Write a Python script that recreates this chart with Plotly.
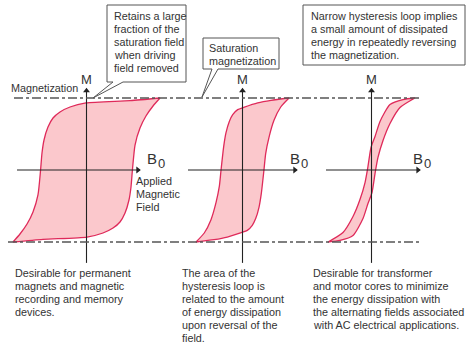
import plotly.graph_objects as go

# ---------------- data ----------------
# upper (descending) branch of each loop, B0 and M in units of saturation
loop1_B = [1.021, 0.604, -0.007, -0.229, -0.368, -0.465, -0.535, -0.590, -0.618, -0.639, -0.674, -0.743, -0.826, -0.924, -1.021]
loop1_M = [1.0, 0.963, 0.931, 0.875, 0.806, 0.722, 0.597, 0.417, 0.236, -0.014, -0.347, -0.583, -0.75, -0.889, -1.0]

loop2_B = [0.646, 0.396, 0.211, 0.017, -0.067, -0.136, -0.183, -0.229, -0.261, -0.299, -0.322, -0.368, -0.4375, -0.531, -0.646]
loop2_M = [1.0, 0.967, 0.931, 0.869, 0.838, 0.768, 0.675, 0.518, 0.328, -0.01, -0.228, -0.454, -0.69, -0.875, -1.0]

loop3_B = [0.604, 0.4375, 0.257, 0.118, 0.049, -0.007, -0.049, -0.090, -0.160, -0.257, -0.396, -0.604]
loop3_M = [1.0, 0.979, 0.91, 0.674, 0.465, 0.3125, 0.049, -0.174, -0.41, -0.646, -0.868, -1.0]

saturation = [1.0, -1.0]

box1_lines = ["Retains a large", "fraction of the", "saturation field", "when driving", "field removed"]
box2_lines = ["Saturation", "magnetization"]
box3_lines = ["Narrow hysteresis loop implies", "a small amount of dissipated",
              "energy in repeatedly reversing", "the magnetization."]
field_lines = ["Applied", "Magnetic", "Field"]
col1_lines = ["Desirable for permanent", "magnets and magnetic", "recording and memory", "devices."]
col2_lines = ["The area of the", "hysteresis loop is", "related to the amount",
              "of energy dissipation", "upon reversal of the", "field."]
col3_lines = ["Desirable for transformer", "and motor cores to minimize",
              "the energy dissipation with", "the alternating fields associated",
              "with AC electrical applications."]

# ---------------- layout helpers ----------------
W, H = 474, 351
S = 72.0            # px per unit
Y0 = 170.0          # px of M = 0
centers = [86.5, 242.5, 371.5]          # px of B0 = 0 per panel
haxis = [(-0.965, 0.743), (-0.757, 0.757), (-0.632, 0.674)]
vaxis = (-1.29, 1.13)
FONT = "Liberation Sans, Arial, sans-serif"
TXT = "#333333"
AX = "#222222"
LOOP_LINE = "#df2a5a"
LOOP_FILL = "rgba(250,190,195,0.85)"
FS = 10.8

fig = go.Figure()

loops = [(loop1_B, loop1_M), (loop2_B, loop2_M), (loop3_B, loop3_M)]
xa_names = ["x", "x2", "x3"]
for (bs, ms), xa in zip(loops, xa_names):
    xs = list(bs) + [-b for b in bs]
    ys = list(ms) + [-m for m in ms]
    xs.append(xs[0]); ys.append(ys[0])
    fig.add_trace(go.Scatter(x=xs, y=ys, xaxis=xa, yaxis="y", mode="lines",
                             line=dict(color=LOOP_LINE, width=1.3, shape="spline", smoothing=0.6),
                             fill="toself", fillcolor=LOOP_FILL, hoverinfo="skip", showlegend=False))

# axes drawn as lines with arrowhead markers
for i, xa in enumerate(xa_names):
    h0, h1 = haxis[i]
    fig.add_trace(go.Scatter(x=[h0, h1], y=[0, 0], xaxis=xa, yaxis="y", mode="lines",
                             line=dict(color=AX, width=1.1), hoverinfo="skip", showlegend=False))
    fig.add_trace(go.Scatter(x=[0, 0], y=[vaxis[0], vaxis[1]], xaxis=xa, yaxis="y", mode="lines",
                             line=dict(color=AX, width=1.1), hoverinfo="skip", showlegend=False))
    fig.add_trace(go.Scatter(x=[h1 - 0.03, 0], y=[0, vaxis[1] - 0.03], xaxis=xa, yaxis="y", mode="markers",
                             marker=dict(symbol=["triangle-right", "triangle-up"], size=6, color=AX,
                                         line=dict(width=0)),
                             hoverinfo="skip", showlegend=False))

# invisible trace for pixel axes
fig.add_trace(go.Scatter(x=[0], y=[0], xaxis="x4", yaxis="y2", mode="markers",
                         marker=dict(opacity=0), showlegend=False, hoverinfo="skip"))

shapes = []
annotations = []

# saturation dash-dot lines
for m, x0 in zip(saturation, [14, 8]):
    shapes.append(dict(type="line", xref="x4", yref="y", x0=x0, x1=422, y0=m, y1=m,
                       line=dict(color="#555555", width=1.3, dash="dashdot")))

for xa in xa_names:
    annotations.append(dict(xref=xa, yref="y", x=0, y=(Y0 - 79) / S, text="M", showarrow=False,
                            font=dict(family=FONT, size=13, color=TXT), xanchor="center", yanchor="middle"))

# B0 labels (pixel positions of "B" and its subscript)
for bx in [152, 295, 418]:
    annotations.append(dict(xref="x4", yref="y2", x=bx, y=158, text="B", showarrow=False,
                            font=dict(family=FONT, size=15, color=TXT), xanchor="center", yanchor="middle"))
    annotations.append(dict(xref="x4", yref="y2", x=bx + 9.5, y=163.5, text="0", showarrow=False,
                            font=dict(family=FONT, size=13, color=TXT), xanchor="center", yanchor="middle"))

# callout boxes
def box_path(l, r, t, b, tail=None):
    if tail is None:
        return f"M{l},{t} H{r} V{b} H{l} Z"
    ta, tb, tx, ty = tail
    return f"M{l},{t} H{r} V{b} H{tb} L{tx},{ty} L{ta},{b} H{l} Z"

shapes.append(dict(type="path", xref="x4", yref="y2", path=box_path(107, 186, 5, 82, (113, 123, 93, 98)),
                   fillcolor="white", line=dict(color="#555555", width=1)))
shapes.append(dict(type="path", xref="x4", yref="y2", path=box_path(203, 279, 38, 69, (212, 218, 202, 97)),
                   fillcolor="white", line=dict(color="#555555", width=1)))
shapes.append(dict(type="path", xref="x4", yref="y2", path=box_path(303, 465, 5, 65),
                   fillcolor="white", line=dict(color="#555555", width=1)))

def add_lines(lines, x, y0, dy=13):
    for k, s in enumerate(lines):
        annotations.append(dict(xref="x4", yref="y2", x=x, y=y0 + k * dy, text=s, showarrow=False,
                                font=dict(family=FONT, size=FS, color=TXT),
                                xanchor="left", yanchor="middle"))

add_lines(box1_lines, 112, 16)
add_lines(box2_lines, 207, 48)
add_lines(box3_lines, 309, 16)
add_lines(["Magnetization"], 9, 88)
add_lines(field_lines, 134, 181)
add_lines(col1_lines, 13, 273)
add_lines(col2_lines, 180, 273)
add_lines(col3_lines, 311, 273)

hidden = dict(visible=False, showgrid=False, zeroline=False, fixedrange=True)
layout = dict(
    width=W, height=H, margin=dict(l=0, r=0, t=0, b=0),
    paper_bgcolor="white", plot_bgcolor="white", showlegend=False,
    xaxis=dict(range=[-centers[0] / S, (W - centers[0]) / S], domain=[0, 1], **hidden),
    xaxis2=dict(range=[-centers[1] / S, (W - centers[1]) / S], overlaying="x", anchor="y", **hidden),
    xaxis3=dict(range=[-centers[2] / S, (W - centers[2]) / S], overlaying="x", anchor="y", **hidden),
    xaxis4=dict(range=[0, W], overlaying="x", anchor="y2", **hidden),
    yaxis=dict(range=[-(H - Y0) / S, Y0 / S], domain=[0, 1], **hidden),
    yaxis2=dict(range=[H, 0], overlaying="y", anchor="x4", **hidden),
    shapes=shapes, annotations=annotations,
)
fig.update_layout(**layout)
fig.write_html("out.html", config=dict(displayModeBar=False))
